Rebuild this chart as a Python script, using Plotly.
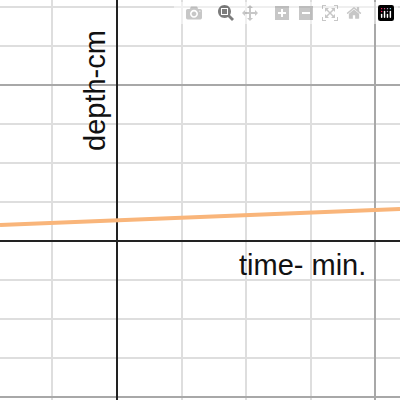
import plotly.graph_objects as go

line_x = [-1.81, 4.38]
line_y = [0.41, 0.82]
x_label = "time- min."
y_label = "depth-cm"

fig = go.Figure(go.Scatter(x=line_x, y=line_y, mode="lines",
                           line=dict(color="#f9b57a", width=4), hoverinfo="skip"))
ax = dict(showticklabels=False, ticks="", zeroline=True, zerolinecolor="#222", zerolinewidth=2,
          gridcolor="#a8a8a8", gridwidth=1.5, showline=False,
          minor=dict(dtick=1, gridcolor="#dedede", gridwidth=1.5, showgrid=True))
fig.update_xaxes(range=[-1.81, 4.38], dtick=4, tick0=0, **ax)
fig.update_yaxes(range=[-4.08, 6.18], dtick=4, tick0=0, **ax)
fig.update_layout(width=400, height=400, margin=dict(l=0, r=0, t=0, b=0),
                  plot_bgcolor="white", paper_bgcolor="white", showlegend=False,
                  font=dict(family="Liberation Sans, Arial", color="#111"),
                  annotations=[
                      dict(text=x_label, x=0.92, y=0.3375, xref="paper", yref="paper",
                           xanchor="right", yanchor="middle", showarrow=False, font=dict(size=29)),
                      dict(text=y_label, x=0.2375, y=0.7725, xref="paper", yref="paper",
                           textangle=-90, xanchor="center", yanchor="middle", showarrow=False,
                           font=dict(size=29)),
                  ])
fig.write_html("out.html", post_script="document.body.style.margin='0';document.body.style.overflow='hidden';")
